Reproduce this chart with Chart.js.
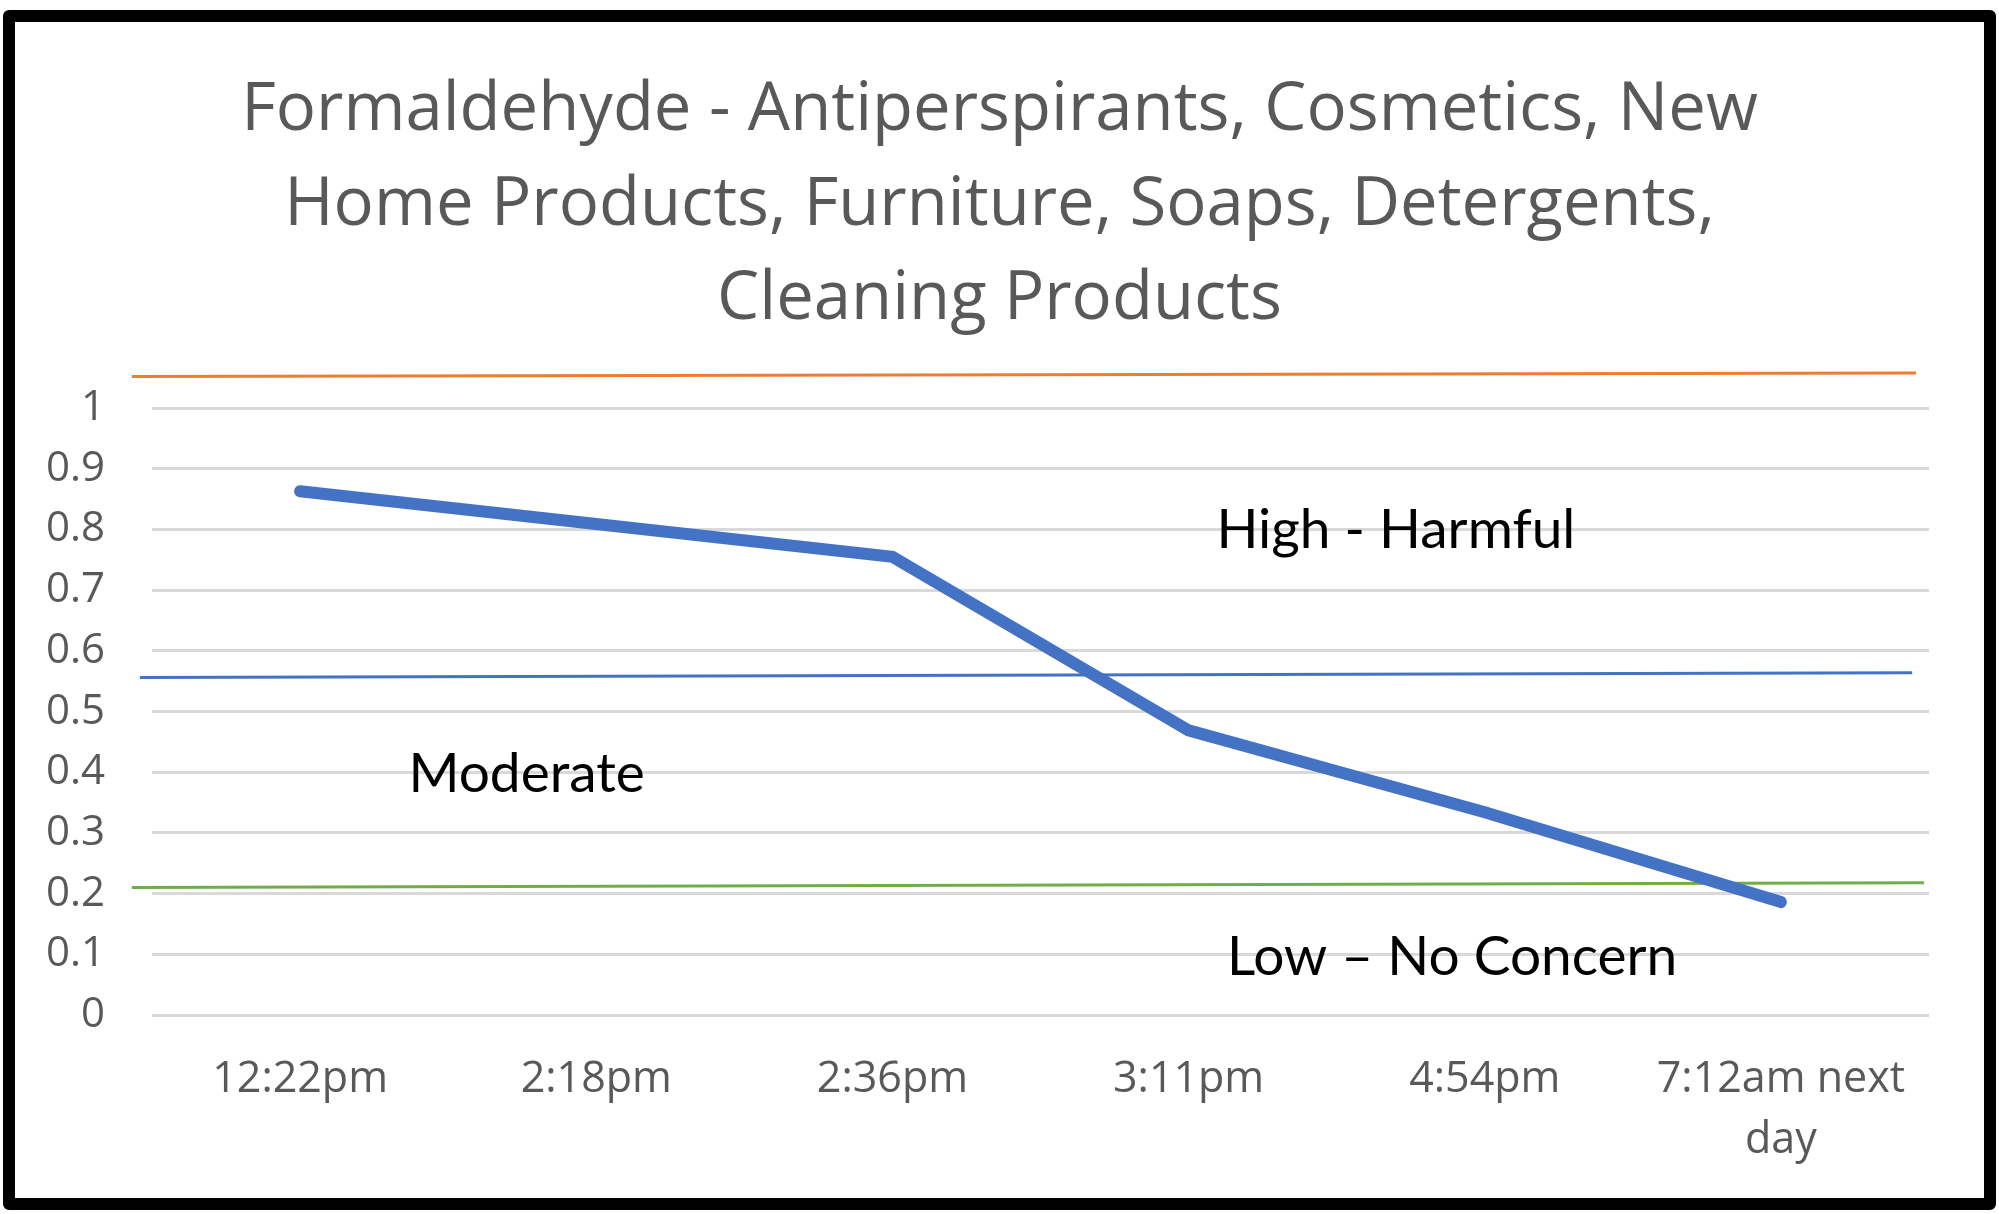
<!DOCTYPE html>
<html>
<head>
<meta charset="utf-8">
<script src="https://cdn.jsdelivr.net/npm/chart.js@4/dist/chart.umd.min.js"></script>
<style>
  html, body { margin: 0; padding: 0; background: #fff; }
  #wrap { position: relative; width: 1999px; height: 1214px; overflow: hidden; background: #fff; }
  #chart { position: absolute; left: 0; top: 0; }
  #frame { position: absolute; left: 3px; top: 10px; width: 1993px; height: 1200px; box-sizing: border-box;
           border: 12px solid #000; border-radius: 6px; pointer-events: none; }
</style>
</head>
<body>
<div id="wrap">
  <canvas id="chart" width="1999" height="1214"></canvas>
  <div id="frame"></div>
</div>
<script>
// data
const times = ["12:22pm", "2:18pm", "2:36pm", "3:11pm", "4:54pm", ["7:12am next", "day"]];
const formaldehyde = [0.863, 0.809, 0.755, 0.469, 0.334, 0.186];
const yTicks = [0, 0.1, 0.2, 0.3, 0.4, 0.5, 0.6, 0.7, 0.8, 0.9, 1];

// hand drawn threshold lines (start / end, in category units)
const highSpan = [-0.568, 5.456];
const highLine = [1.052, 1.058];
const moderateSpan = [-0.541, 5.443];
const moderateLine = [0.556, 0.564];
const lowSpan = [-0.568, 5.483];
const lowLine = [0.21, 0.218];

const zoneNames = ["High - Harmful", "Moderate", "Low \u2013 No Concern"];
const zoneAt = [[3.70, 0.798], [0.765, 0.396], [3.89, 0.095]];

const titleLines = [
  "Formaldehyde - Antiperspirants, Cosmetics, New",
  "Home Products, Furniture, Soaps, Detergents,",
  "Cleaning Products"
];

function pairs(span, vals) {
  return span.map((x, i) => ({ x: x, y: vals[i] }));
}

// zone labels
const zoneText = {
  id: "zoneText",
  afterDatasetsDraw(chart) {
    const ctx = chart.ctx;
    const xs = chart.scales.x2, ys = chart.scales.y;
    ctx.save();
    ctx.font = "55px Lato";
    ctx.fillStyle = "#000";
    ctx.textAlign = "center";
    ctx.textBaseline = "middle";
    zoneNames.forEach((t, i) => {
      ctx.fillText(t, xs.getPixelForValue(zoneAt[i][0]), ys.getPixelForValue(zoneAt[i][1]));
    });
    ctx.restore();
  }
};

const thin = (color) => ({
  type: "line", xAxisID: "x2", borderColor: color, borderWidth: 3,
  pointRadius: 0, clip: false, tension: 0
});

new Chart(document.getElementById("chart"), {
  type: "line",
  data: {
    labels: times,
    datasets: [
      {
        label: "Formaldehyde",
        data: formaldehyde,
        borderColor: "#4472C4",
        borderWidth: 12,
        borderCapStyle: "round",
        pointRadius: 0,
        tension: 0,
        clip: false
      },
      Object.assign(thin("#ED7D31"), { label: "High", data: pairs(highSpan, highLine) }),
      Object.assign(thin("#4472C4"), { label: "Moderate", data: pairs(moderateSpan, moderateLine) }),
      Object.assign(thin("#70AD47"), { label: "Low", data: pairs(lowSpan, lowLine) })
    ]
  },
  options: {
    responsive: false,
    animation: false,
    layout: { padding: 0 },
    plugins: {
      legend: { display: false },
      tooltip: { enabled: false },
      title: {
        display: true,
        text: titleLines,
        color: "#595959",
        font: { family: "'Open Sans'", size: 67, weight: "normal", lineHeight: 1.41 },
        padding: { top: 64, bottom: 0 }
      }
    },
    scales: {
      x: {
        type: "category",
        offset: true,
        grid: { display: false, drawTicks: false },
        border: { display: false },
        ticks: {
          color: "#595959",
          font: { family: "'Open Sans'", size: 43, lineHeight: 1.4 },
          padding: 35,
          maxRotation: 0,
          autoSkip: false
        },
        afterFit(s) { s.height = 199; }
      },
      x2: { type: "linear", min: -0.5, max: 5.5, display: false },
      y: {
        min: 0,
        max: 1.1,
        afterBuildTicks(s) { s.ticks = yTicks.map(v => ({ value: v })); },
        grid: { color: "#D9D9D9", lineWidth: 3, drawTicks: false },
        border: { display: false },
        ticks: {
          color: "#595959",
          font: { family: "'Open Sans'", size: 42 },
          padding: 47,
          callback: v => String(v)
        },
        afterFit(s) { s.width = 152; }
      },
      // empty right margin so the title centres like the original
      yRight: {
        position: "right",
        grid: { display: false, drawTicks: false },
        border: { display: false },
        ticks: { display: false },
        afterFit(s) { s.width = 70; }
      }
    }
  },
  plugins: [zoneText]
});
</script>
</body>
</html>
